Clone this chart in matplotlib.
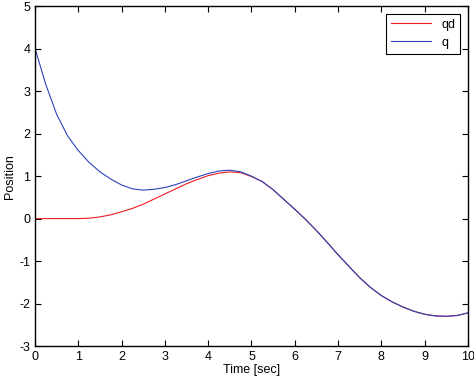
import numpy as np
import matplotlib
matplotlib.use('Agg')
import matplotlib.pyplot as plt

plt.rcParams['font.family'] = ['Liberation Sans', 'DejaVu Sans']
plt.rcParams['axes.unicode_minus'] = False

# sample times (sec)
t = np.arange(0, 10.01, 0.25)

# desired trajectory qd
qd = [0.0, 0.0, 0.0, 0.0, 0.0, 0.01, 0.04, 0.09, 0.16, 0.24,
      0.34, 0.46, 0.58, 0.7, 0.82, 0.92, 1.01, 1.07, 1.1, 1.08,
      0.99, 0.87, 0.68, 0.45, 0.22, -0.02, -0.28, -0.56, -0.85, -1.12,
      -1.39, -1.62, -1.81, -1.96, -2.08, -2.18, -2.25, -2.29, -2.3, -2.28,
      -2.22]

# actual position q
q = [4.0, 3.15, 2.45, 1.95, 1.6, 1.32, 1.1, 0.93, 0.79, 0.7,
     0.67, 0.69, 0.73, 0.8, 0.89, 0.98, 1.06, 1.12, 1.14, 1.1,
     1.0, 0.87, 0.68, 0.45, 0.22, -0.02, -0.28, -0.56, -0.85, -1.12,
     -1.39, -1.62, -1.81, -1.96, -2.08, -2.18, -2.25, -2.29, -2.3, -2.28,
     -2.22]

fig = plt.figure(figsize=(4.74, 3.82), dpi=100)
ax = fig.add_axes([0.074, 0.094, 0.913, 0.89])
ax.plot(t, qd, color='#f01c24', linewidth=0.8, label='qd')
ax.plot(t, q, color='#2a44b8', linewidth=0.8, label='q')

ax.set_xlim(0, 10)
ax.set_ylim(-3, 5)
ax.set_xticks(range(0, 11))
ax.set_yticks(range(-3, 6))
ax.tick_params(direction='in', top=True, right=True, labelsize=9, length=4, width=0.8)
for s in ax.spines.values():
    s.set_linewidth(1.0)
ax.set_xlabel('Time [sec]', fontsize=9, labelpad=1)
ax.set_ylabel('Position', fontsize=9, labelpad=2)

leg = ax.legend(loc='upper right', fontsize=9, fancybox=False, framealpha=1,
                edgecolor='black', handlelength=3.2, borderaxespad=0.6)
leg.get_frame().set_linewidth(0.8)

fig.savefig('out.png', dpi=100)
